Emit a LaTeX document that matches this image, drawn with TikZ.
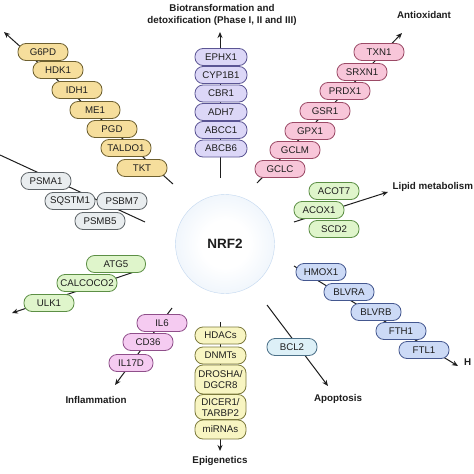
\documentclass[tikz,border=0pt]{standalone}
\usepackage{fontspec}
\setmainfont{Liberation Sans}
\usetikzlibrary{arrows.meta}
\definecolor{txt}{HTML}{1E1E1E}
\definecolor{yelF}{HTML}{F6DE9C}\definecolor{yelD}{HTML}{6E6030}
\definecolor{purF}{HTML}{DCD7F7}\definecolor{purD}{HTML}{5B5594}
\definecolor{pnkF}{HTML}{F8C6D9}\definecolor{pnkD}{HTML}{9B4A66}
\definecolor{grnF}{HTML}{DFF5CB}\definecolor{grnD}{HTML}{5C8F45}
\definecolor{gryF}{HTML}{E9EDEF}\definecolor{gryD}{HTML}{5F6569}
\definecolor{magF}{HTML}{F5CBF1}\definecolor{magD}{HTML}{8F4F8A}
\definecolor{epiF}{HTML}{F8F5C2}\definecolor{epiD}{HTML}{7C7A3C}
\definecolor{hemF}{HTML}{CCDAF6}\definecolor{hemD}{HTML}{44578F}
\definecolor{bclF}{HTML}{DDF0F7}\definecolor{bclD}{HTML}{4B7088}
\definecolor{nrfmid}{HTML}{E2EDF9}
\definecolor{nrfblue}{HTML}{C3D8F0}
\pgfdeclareradialshading{nrfshade}{\pgfpoint{0bp}{0bp}}{color(0bp)=(white); color(12bp)=(white); color(38bp)=(nrfmid); color(50bp)=(nrfblue); color(52bp)=(nrfblue)}
\tikzset{
  pill/.style={rectangle, rounded corners=8pt, minimum width=50pt, minimum height=17pt, inner sep=1pt, line width=0.8pt, font=\fontsize{9.7}{11}\selectfont, text=txt, align=center},
  yel/.style={pill, fill=yelF, draw=yelD},
  pur/.style={pill, fill=purF, draw=purD, minimum width=52pt},
  pnk/.style={pill, fill=pnkF, draw=pnkD},
  grn/.style={pill, fill=grnF, draw=grnD},
  gry/.style={pill, fill=gryF, draw=gryD},
  mag/.style={pill, fill=magF, draw=magD},
  epi/.style={pill, fill=epiF, draw=epiD, minimum width=51pt, inner sep=0pt},
  hem/.style={pill, fill=hemF, draw=hemD},
  bcl/.style={pill, fill=bclF, draw=bclD},
  lab/.style={font=\bfseries\fontsize{9.8}{11.5}\selectfont, text=txt, align=center},
  arr/.style={-{Stealth[length=6pt,width=5pt]}, line width=1pt, draw=txt},
  ln/.style={line width=1pt, draw=txt}
}
\begin{document}
\begin{tikzpicture}[x=1pt,y=-1pt]
\useasboundingbox[fill=white] (0,0) rectangle (474,474);
% NRF2 circle
\node[circle, minimum size=99pt, shading=nrfshade, draw=nrfblue, line width=0.4pt, font=\bfseries\fontsize{13.5}{14}\selectfont, text=txt] (nrf) at (225,244) {NRF2};
% connector end points
\coordinate (mA) at (173,184); \coordinate (mB) at (4,32);
\coordinate (bA) at (220,178); \coordinate (bB) at (220,32);
\coordinate (aA) at (257,183); \coordinate (aB) at (402,33);
\coordinate (gA) at (0,155);   \coordinate (gB) at (145,222);
\coordinate (lA) at (294,222); \coordinate (lB) at (388,192);
\coordinate (hA) at (294,266); \coordinate (hB) at (458,366);
\coordinate (cA) at (267,305); \coordinate (cB) at (328,386);
\coordinate (iA) at (172,308); \coordinate (iB) at (115,385);
\coordinate (eA) at (220,322); \coordinate (eB) at (220,451);
\coordinate (uA) at (140,270); \coordinate (uB) at (12,313);
\draw[arr] (mA) -- (mB);
\draw[arr] (bA) -- (bB);
\draw[arr] (aA) -- (aB);
\draw[ln]  (gA) -- (gB);
\draw[arr] (lA) -- (lB);
\draw[arr] (hA) -- (hB);
\draw[arr] (cA) -- (cB);
\draw[arr] (iA) -- (iB);
\draw[arr] (eA) -- (eB);
\draw[arr] (uA) -- (uB);
% metabolism (yellow)
\node[yel] (g6pd) at (43,52) {G6PD};
\node[yel] (hdk1) at (58,70) {HDK1};
\node[yel] (idh1) at (77,90) {IDH1};
\node[yel] (me1) at (95,110) {ME1};
\node[yel] (pgd) at (112,129) {PGD};
\node[yel] (taldo1) at (126,148) {TALDO1};
\node[yel] (tkt) at (142,168) {TKT};
% biotransformation (purple)
\node[pur] (ephx1) at (221,57) {EPHX1};
\node[pur] (cyp1b1) at (221,75) {CYP1B1};
\node[pur] (cbr1) at (221,93.5) {CBR1};
\node[pur] (adh7) at (221,112) {ADH7};
\node[pur] (abcc1) at (221,130) {ABCC1};
\node[pur] (abcb6) at (221,148.5) {ABCB6};
\node[lab] (tbio) at (222,15) {Biotransformation and\\detoxification (Phase I, II and III)};
% antioxidant (pink)
\node[pnk] (txn1) at (379,52) {TXN1};
\node[pnk] (srxn1) at (362,72) {SRXN1};
\node[pnk] (prdx1) at (345,91) {PRDX1};
\node[pnk] (gsr1) at (325,111) {GSR1};
\node[pnk] (gpx1) at (310,131) {GPX1};
\node[pnk] (gclm) at (295,150) {GCLM};
\node[pnk] (gclc) at (280,169) {GCLC};
\node[lab] (tanti) at (424,15) {Antioxidant};
% proteasome (grey)
\node[gry] (psma1) at (46,181) {PSMA1};
\node[gry] (sqstm1) at (70,201) {SQSTM1};
\node[gry] (psbm7) at (122,201) {PSBM7};
\node[gry] (psmb5) at (100,221) {PSMB5};
% lipid (green)
\node[grn] (acot7) at (334,191) {ACOT7};
\node[grn] (acox1) at (319,210) {ACOX1};
\node[grn] (scd2) at (334,229) {SCD2};
\node[lab, anchor=west] (tlip) at (389,187) {Lipid metabolism};
% autophagy (green)
\node[grn, minimum width=59pt] (atg5) at (116,264) {ATG5};
\node[grn, minimum width=60pt] (calcoco2) at (87,283) {CALCOCO2};
\node[grn] (ulk1) at (49,303) {ULK1};
% inflammation (magenta)
\node[mag] (il6) at (162,323) {IL6};
\node[mag] (cd36) at (148,342) {CD36};
\node[mag, minimum width=44pt] (il17d) at (131,363) {IL17D};
\node[lab] (tinf) at (96,400) {Inflammation};
% epigenetics
\node[epi] (hdacs) at (220.5,335.5) {HDACs};
\node[epi] (dnmts) at (220.5,355.5) {DNMTs};
\node[epi, minimum height=29pt] (drosha) at (220.5,379.5) {DROSHA/\\DGCR8};
\node[epi, minimum height=25pt] (dicer) at (220.5,407) {DICER1/\\TARBP2};
\node[epi, minimum height=19pt] (mirnas) at (220.5,429.5) {miRNAs};
\node[lab] (tepi) at (220,461) {Epigenetics};
% heme (blue)
\node[hem] (hmox1) at (321,272) {HMOX1};
\node[hem] (blvra) at (349,292) {BLVRA};
\node[hem] (blvrb) at (376,312) {BLVRB};
\node[hem] (fth1) at (401,331) {FTH1};
\node[hem] (ftl1) at (424,350) {FTL1};
\node[lab, anchor=west, inner sep=1pt] (theme) at (463,362) {H};
% apoptosis
\node[bcl] (bcl2) at (292,347) {BCL2};
\node[lab] (tapo) at (338,399) {Apoptosis};
\end{tikzpicture}
\end{document}
